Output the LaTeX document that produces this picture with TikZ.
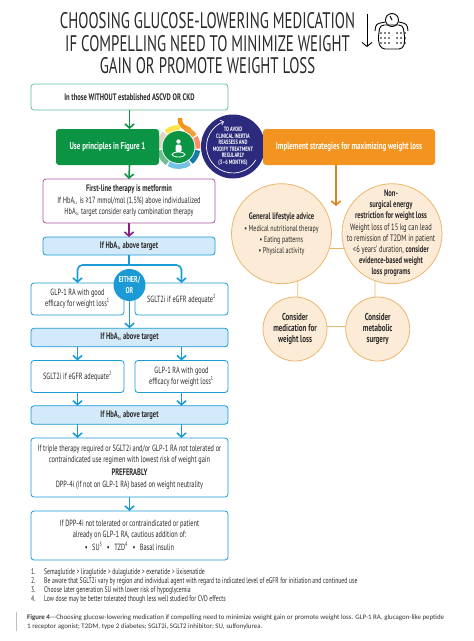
\documentclass[tikz,border=0pt]{standalone}
\usepackage{fontspec}
\usetikzlibrary{arrows.meta,calc,positioning}
\setmainfont[FakeStretch=0.70]{PT Sans}
\newfontfamily\titlefont[FakeStretch=0.66]{PT Sans}
\newfontfamily\capfont{Carlito}
\definecolor{adagreen}{HTML}{0B9444}
\definecolor{adapale}{HTML}{63BD93}
\definecolor{adaorange}{HTML}{F39420}
\definecolor{adapurple}{HTML}{A9559F}
\definecolor{adaplum}{HTML}{8C1C87}
\definecolor{adablue}{HTML}{1B9AD6}
\definecolor{adasky}{HTML}{D2EAF9}
\definecolor{adacream}{HTML}{FCEBD6}
\definecolor{adatan}{HTML}{EDB66F}
\definecolor{adanavy}{HTML}{2C2A7C}
\definecolor{adaink}{HTML}{2A2A2A}
\newcommand{\hba}{HbA\textsubscript{\fontsize{4.5}{5}\selectfont 1c}}
\newcommand{\headfont}{\fontsize{9.4}{11}\selectfont\bfseries}
\tikzset{
    flowbox/.style={draw=adablue, fill=white, rounded corners=3pt, line width=0.8pt, align=center,
        inner sep=0pt, outer sep=0pt, font=\fontsize{9}{11}\selectfont, text=adaink},
    skybox/.style={flowbox, fill=adasky, font=\headfont},
    wide/.style={minimum width=197pt},
    half/.style={minimum width=93pt, minimum height=32pt},
    solidbox/.style={rounded corners=3pt, inner sep=0pt, outer sep=0pt, text=white, align=center,
        minimum height=36pt, font=\fontsize{10}{11}\selectfont\bfseries},
    bluearrow/.style={draw=adablue, line width=1.6pt, -{Straight Barb[length=4pt,width=9pt]}},
    softcircle/.style={circle, draw=adatan, fill=adacream, line width=0.8pt, inner sep=0pt, outer sep=0pt,
        align=center, text=adaink},
    bigcircle/.style={softcircle, minimum size=100pt},
    smallcircle/.style={softcircle, minimum size=64pt, font=\fontsize{10}{11}\selectfont\bfseries},
    circletext/.style={align=center, inner sep=0pt, font=\fontsize{8.6}{11}\selectfont, text=adaink},
    circlelink/.style={draw=adatan, line width=0.8pt},
    ringpiece/.style={line width=5pt},
    notetext/.style={anchor=west, inner sep=0pt, font=\fontsize{8.2}{9}\selectfont, text=adaink},
}
\begin{document}
\begin{tikzpicture}[x=1pt,y=-1pt]
    \useasboundingbox (0,0) rectangle (474,641);

    % Title
    \node[align=center, inner sep=0pt, font=\fontsize{22.5}{22.6}\selectfont\titlefont, text=adaink] (title) at (207.5,43.5)
        {CHOOSING GLUCOSE-LOWERING MEDICATION\\IF COMPELLING NEED TO MINIMIZE WEIGHT\\GAIN OR PROMOTE WEIGHT LOSS};

    % Scale icon
    \draw[line width=0.9pt, -{Straight Barb[length=4pt,width=10pt]}] (367,14) -- (367,47);
    \draw[line width=0.9pt] (392,20) circle (6.5);
    \draw[line width=0.9pt] (392,20) -- (390,16);
    \draw[line width=0.9pt, rounded corners=3pt] (375,31) -- (376,24) -- (385,22);
    \draw[line width=0.9pt, rounded corners=3pt] (408,31) -- (407,24) -- (399,22);
    \draw[line width=0.9pt, rounded corners=4pt] (380,25) -- (378,40) -- (381,49) -- (403,49) -- (405,40) -- (403,25) -- cycle;
    \foreach \x in {381,385,389,397,401,405} {
        \foreach \y in {33,38,43} {
            \fill (\x,\y) circle (0.9);
        }
    }

    % Left column
    \node[flowbox, wide, draw=adapale, minimum height=26pt, font=\headfont] (start) at (129.5,97)
        {In those WITHOUT established ASCVD OR CKD};

    % Principles ring
    \coordinate (ringcentre) at (178.5,147);
    \draw[adaorange, line width=4.5pt, rounded corners=4pt] (180,118) -- (180,125) -- (190,130);
    \draw[ringpiece, color=adaorange!90] ($(ringcentre)+(-70:19.5)$) arc (-70:-35:19.5);
    \draw[ringpiece, color=red!50!orange!60] ($(ringcentre)+(-30:19.5)$) arc (-30:5:19.5);
    \draw[ringpiece, color=adablue!80!black] ($(ringcentre)+(10:19.5)$) arc (10:50:19.5);
    \draw[ringpiece, color=adablue!60] ($(ringcentre)+(55:19.5)$) arc (55:120:19.5);
    \draw[ringpiece, color=adagreen!60] ($(ringcentre)+(125:19.5)$) arc (125:170:19.5);
    \draw[ringpiece, color=adacream!90!black] ($(ringcentre)+(175:19.5)$) arc (175:225:19.5);
    \draw[ringpiece, color=yellow!80!orange!70] ($(ringcentre)+(230:19.5)$) arc (230:275:19.5);
    \node[circle, fill=adagreen, minimum size=32pt, inner sep=0pt] (ringdisc) at (ringcentre) {};
    \fill[white] (178.5,141.5) circle (2.2);
    \fill[white, rounded corners=1.5pt] (175.5,144.5) rectangle (181.5,152);
    \draw[white, line width=0.8pt] (178.5,154.5) ellipse (6.5 and 2.5);

    \node[solidbox, fill=adagreen, minimum width=103pt] (principles) at (107.5,147) {Use principles in Figure 1};
    \node[circle, fill=adanavy, minimum size=64pt, inner sep=0pt, align=center, text=white,
        font=\fontsize{6.3}{6.6}\selectfont\bfseries] (inertia) at (233,146.5)
        {TO AVOID\\CLINICAL INERTIA\\REASSESS AND\\MODIFY TREATMENT\\REGULARLY\\(3--6 MONTHS)};
    \draw[white, line width=0.7pt, -{Straight Barb[length=2.5pt,width=5pt]}] ($(inertia)+(30:26.5)$) arc (30:250:26.5);
    \node[solidbox, fill=adaorange, minimum width=172pt] (strategies) at (349,147) {Implement strategies for maximizing weight loss};

    \node[flowbox, draw=adapurple, minimum width=172pt, minimum height=44pt] (metformin) at (129,201)
        {{\headfont First-line therapy is metformin}\\[1pt]If \hba{} is ≥17 mmol/mol (1.5\%) above individualized\\\hba{} target consider early combination therapy};
    \node[skybox, minimum width=172pt, minimum height=18pt] (firsttarget) at (129,246) {If \hba{} above target};

    \node[flowbox, half] (firstglp) at (77.5,299) {GLP-1 RA with good\\efficacy for weight loss\textsuperscript{1}};
    \node[flowbox, half] (firstsglt) at (181.5,299) {SGLT2i if eGFR adequate\textsuperscript{2}};
    \node[circle, fill=adablue, minimum size=32pt, inner sep=0pt, outer sep=0pt, align=center, text=white,
        font=\fontsize{8.6}{11}\selectfont\bfseries] (either) at (129.5,285) {EITHER/\\OR};

    \node[skybox, wide, minimum height=18.5pt] (secondtarget) at (129.5,337.5) {If \hba{} above target};
    \node[flowbox, half] (secondsglt) at (77.5,376.5) {SGLT2i if eGFR adequate\textsuperscript{2}};
    \node[flowbox, half] (secondglp) at (181.5,376.5) {GLP-1 RA with good\\efficacy for weight loss\textsuperscript{1}};
    \node[skybox, wide, minimum height=18.5pt] (thirdtarget) at (129.5,415) {If \hba{} above target};

    \node[flowbox, wide, minimum height=59pt] (triple) at (129.5,467.5)
        {If triple therapy required or SGLT2i and/or GLP-1 RA not tolerated or\\contraindicated use regimen with lowest risk of weight gain\\[1.5pt]{\headfont PREFERABLY}\\[1.5pt]DPP-4i (if not on GLP-1 RA) based on weight neutrality};
    \node[flowbox, wide, minimum height=49pt] (cautious) at (129.5,535.5)
        {If DPP-4i not tolerated or contraindicated or patient\\already on GLP-1 RA, cautious addition of:\\[2pt]•\enspace SU\textsuperscript{3}\enspace •\enspace TZD\textsuperscript{4}\enspace •\enspace Basal insulin};

    % Arrows of the left column
    \draw[draw=adagreen, line width=1.6pt, -{Straight Barb[length=4pt,width=9pt]}] (start) -- (start |- principles.north);
    \draw[draw=adagreen, line width=1.6pt, -{Straight Barb[length=4pt,width=9pt]}] (start |- principles.south) -- (metformin.north);
    \draw[draw=adaplum, line width=1.6pt, -{Straight Barb[length=4pt,width=9pt]}] (metformin) -- (firsttarget);
    \coordinate (fork) at (129,265);
    \draw[draw=adablue, line width=1.6pt] (firsttarget.south) -- (fork);
    \draw[bluearrow, rounded corners=5pt] (fork) -| (firstglp.north);
    \draw[bluearrow, rounded corners=5pt] (fork) -| (firstsglt.north);
    \draw[bluearrow] (either.south) -- (secondtarget.north);
    \draw[bluearrow] (secondtarget.south -| secondsglt) -- (secondsglt.north);
    \draw[bluearrow] (secondtarget.south -| secondglp) -- (secondglp.north);
    \draw[bluearrow] (secondsglt.south) -- (thirdtarget.north -| secondsglt);
    \draw[bluearrow] (secondglp.south) -- (thirdtarget.north -| secondglp);
    \draw[bluearrow] (thirdtarget.south -| secondsglt) -- (triple.north -| secondsglt);
    \draw[bluearrow] (thirdtarget.south -| secondglp) -- (triple.north -| secondglp);
    \draw[bluearrow] (triple) -- (cautious);

    % Right column
    \node[bigcircle] (lifestyle) at (281.5,233.7) {};
    \node[bigcircle] (restriction) at (392,233.7) {};
    \node[smallcircle] (medication) at (295,329) {Consider\\medication for\\weight loss};
    \node[smallcircle] (surgery) at (377.7,329) {Consider\\metabolic\\surgery};
    \node[circletext] (lifestyletext) at (281.5,234)
        {{\headfont General lifestyle advice}\\[1pt]• Medical nutritional therapy\\• Eating patterns\\• Physical activity};
    \node[circletext, font=\fontsize{9.3}{11}\selectfont] (restrictiontext) at (391,233.5)
        {{\headfont Non-}\\{\headfont surgical energy}\\{\headfont restriction for weight loss}\\[1pt]Weight loss of 15 kg can lead\\to remission of T2DM in patient\\<6 years' duration, {\bfseries consider}\\{\bfseries evidence-based weight}\\{\bfseries loss programs}};
    \draw[circlelink] (lifestyle.-17) -- (restriction.197);
    \draw[circlelink] (lifestyle.-71) -- (medication.85);
    \draw[circlelink] (restriction.250) -- (surgery.95);
    \draw[circlelink] (medication.5) -- (surgery.175);
    \coordinate (lifestylegap) at (336,206);
    \draw[draw=adaorange!90!black, line width=1.6pt, -{Straight Barb[length=4pt,width=9pt]}] (strategies.south -| lifestylegap) -- (lifestylegap);

    % Footnotes
    \foreach \y/\n/\note/\name in {572/1./{Semaglutide > liraglutide > dulaglutide > exenatide > lixisenatide}/a,
        581/2./{Be aware that SGLT2i vary by region and individual agent with regard to indicated level of eGFR for initiation and continued use}/b,
        590/3./{Choose later generation SU with lower risk of hypoglycemia}/c,
        599/4./{Low dose may be better tolerated though less well studied for CVD effects}/d} {
        \node[notetext] (num\name) at (31,\y) {\n};
        \node[notetext] (note\name) at (44,\y) {\note};
    }

    % Caption
    \draw[black!25, line width=1pt] (16,612) -- (16,631);
    \node[anchor=west, inner sep=0pt, text=black!80, align=left, font=\capfont\fontsize{6.9}{9.2}\selectfont] (caption) at (27,622.5)
        {{\bfseries Figure 4}---Choosing glucose-lowering medication if compelling need to minimize weight gain or promote weight loss. GLP-1 RA, glucagon-like peptide\\1 receptor agonist; T2DM, type 2 diabetes; SGLT2i, SGLT2 inhibitor; SU, sulfonylurea.};
\end{tikzpicture}
\end{document}
